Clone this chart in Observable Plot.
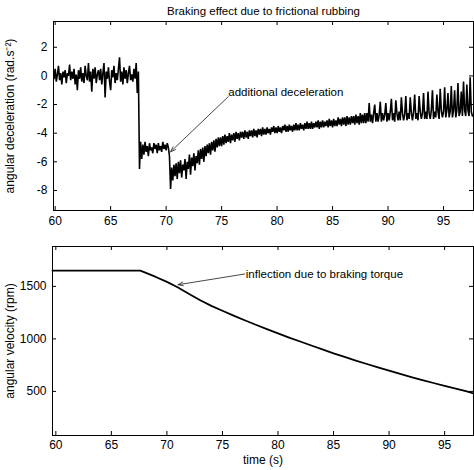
<!DOCTYPE html>
<html>
<head>
<meta charset="utf-8">
<script src="https://cdn.jsdelivr.net/npm/d3@7"></script>
<script src="https://cdn.jsdelivr.net/npm/@observablehq/plot@0.6"></script>
<style>
  body { margin: 0; background: #fff; }
  #chart { width: 474px; height: 470px; }
  #chart svg { display: block; }
</style>
</head>
<body>
<div id="chart"></div>
<script>
// ---------- DATA ----------
const title = "Braking effect due to frictional rubbing";

// angular deceleration (rad.s^-2), sampled every 0.1 s starting at 59.9 s
const accelStart = 59.9;
const accelStep = 0.1;
const accel = [
  -0.2,
  0.5, -0.4, 0.1, 0.7, -0.3, 0.2, -0.6, 0.3, -0.1, 0.4,
  -0.5, 0.2, 0.0, 0.8, -0.3, 0.3, -0.2, 0.5, -0.6, 0.1,
  -1.0, 0.4, -0.2, 0.6, -0.4, 0.2, -0.5, 0.7, 0.0, -0.3,
  0.9, -0.4, 0.3, -1.1, 0.5, -0.2, 0.6, -0.5, 0.1, 0.4,
  -0.3, 0.5, -0.6, 0.2, 0.9, -1.5, 0.3, -0.2, 0.6, -0.4,
  -1.0, 0.4, -0.1, 0.7, -0.5, 0.2, -0.3, 0.5, 1.3, -0.4,
  0.3, -0.6, 0.6, -0.2, 0.4, -0.5, 0.2, 0.7, -0.3, 0.1,
  -0.4, 0.5, -0.2, 0.9, -1.2, 0.3, -6.5, -4.6, -5.8, -4.8,
  -5.5, -4.6, -5.3, -4.9, -5.6, -4.7, -5.2, -5.0, -5.4, -4.7,
  -5.1, -4.8, -5.4, -4.7, -5.2, -4.9, -5.3, -4.6, -5.1, -4.8,
  -5.2, -4.7, -5.0, -5.6, -7.9, -6.4, -7.3, -6.2, -7.0, -6.1,
  -7.2, -6.0, -6.8, -5.9, -7.1, -6.2, -6.6, -5.8, -7.2, -6.0,
  -6.5, -5.5, -6.9, -5.7, -6.3, -5.4, -6.6, -5.6, -6.1, -5.2,
  -6.2, -5.1, -5.8, -5.0, -6.0, -4.9, -5.6, -4.8, -5.4, -4.7,
  -5.5, -4.6, -5.2, -4.5, -5.3, -4.4, -5.0, -4.3, -4.9, -4.3,
  -4.9, -4.2, -4.8, -4.1, -4.7, -4.2, -4.6, -4.0, -4.7, -4.1,
  -4.5, -4.0, -4.6, -3.9, -4.4, -4.0, -4.5, -3.9, -4.3, -3.9,
  -4.4, -3.8, -4.3, -3.9, -4.4, -3.8, -4.2, -3.8, -4.3, -3.7,
  -4.2, -3.8, -4.3, -3.7, -4.1, -3.7, -4.2, -3.6, -4.1, -3.7,
  -4.1, -3.6, -4.0, -3.7, -4.1, -3.6, -3.9, -3.5, -4.0, -3.6,
  -4.0, -3.5, -3.9, -3.6, -4.0, -3.5, -3.8, -3.4, -3.9, -3.5,
  -3.9, -3.4, -3.8, -3.5, -3.9, -3.4, -3.8, -3.3, -3.8, -3.4,
  -3.8, -3.3, -3.7, -3.4, -3.8, -3.3, -3.7, -3.2, -3.7, -3.3,
  -3.7, -3.2, -3.7, -3.3, -3.6, -3.2, -3.6, -3.1, -3.7, -3.2,
  -3.6, -3.1, -3.6, -3.2, -3.5, -3.1, -3.6, -3.0, -3.5, -3.1,
  -3.6, -3.0, -3.5, -3.1, -3.5, -2.9, -3.4, -3.0, -3.5, -2.9,
  -3.4, -2.9, -3.5, -2.8, -3.4, -2.9, -3.4, -2.8, -3.3, -2.8,
  -3.4, -2.7, -3.3, -2.8, -3.4, -2.6, -3.3, -2.7, -3.3, -2.6,
  -3.3, -2.6, -3.2, -1.9, -3.2, -2.7, -3.3, -2.6, -2.0, -3.2,
  -2.6, -3.2, -2.7, -1.8, -3.2, -2.6, -3.1, -2.7, -1.9, -3.2,
  -2.6, -3.1, -2.5, -1.6, -3.1, -2.6, -3.2, -1.7, -2.6, -3.1,
  -2.5, -3.1, -1.5, -2.6, -3.1, -2.7, -1.4, -3.1, -2.6, -3.0,
  -1.5, -2.6, -3.1, -2.5, -1.3, -3.0, -2.6, -3.1, -1.4, -2.5,
  -3.0, -2.6, -1.2, -3.0, -2.5, -3.0, -1.1, -2.6, -3.0, -2.4,
  -1.0, -3.0, -2.5, -2.9, -1.3, -2.5, -3.0, -0.9, -2.4, -2.9,
  -2.5, -0.8, -2.9, -2.4, -1.2, -2.9, -2.5, -0.7, -2.9, -2.4,
  -1.0, -2.9, -2.4, -0.5, -2.8, -2.5, -1.1, -2.8, -0.4, -2.4,
  -2.8, -0.6, -2.4, -2.8, -0.1, -2.5, -2.8
];

// angular velocity (rpm)
const velTime = [59.7, 67.6, 68, 69, 70, 71, 72, 73, 74, 75, 76, 77, 78, 79, 80, 81, 82, 83, 84, 85, 86, 87, 88, 89, 90, 91, 92, 93, 94, 95, 96, 97, 97.6];
const velRpm  = [1650, 1650, 1633, 1590, 1543, 1490, 1428, 1368, 1315, 1268, 1222, 1178, 1135, 1093, 1052, 1013, 975, 937, 900, 863, 828, 794, 761, 729, 697, 667, 637, 608, 580, 553, 526, 500, 480];

// tick values
const xTicks = [60, 65, 70, 75, 80, 85, 90, 95];
const accelTicks = [-8, -6, -4, -2, 0, 2];
const velTicks = [500, 1000, 1500];

// annotations (data space): text anchor and arrow from/to
const accelNote = {text: "additional deceleration", x: 75.6, y: -1.12, x1: 75.6, y1: -1.45, x2: 70.4, y2: -5.3};
const velNote = {text: "inflection due to braking torque", x: 77.1, y: 1618, x1: 77.0, y1: 1618, x2: 71.0, y2: 1516};

// ---------- BUILD ----------
const accelData = accel.map((v, i) => ({t: accelStart + i * accelStep, a: v}));
const velData = velTime.map((t, i) => ({t, v: velRpm[i]}));

const font = "'Liberation Sans', Arial, sans-serif";
const fmt = d => String(d);

function boxTicks(xs, ys, frameW, frameH, len) {
  return [
    Plot.ruleX(xs, {x: d => d, insetTop: frameH - len, stroke: "#000", strokeWidth: 1}),
    Plot.ruleX(xs, {x: d => d, insetBottom: frameH - len, stroke: "#000", strokeWidth: 1}),
    Plot.ruleY(ys, {y: d => d, insetRight: frameW - len, stroke: "#000", strokeWidth: 1}),
    Plot.ruleY(ys, {y: d => d, insetLeft: frameW - len, stroke: "#000", strokeWidth: 1})
  ];
}

const W = 474;
const L1 = {h: 233, mt: 21, mb: 23, ml: 53, mr: 1};
const L2 = {h: 237, mt: 13, mb: 35, ml: 52, mr: 1};

const p1 = Plot.plot({
  width: W, height: L1.h,
  marginTop: L1.mt, marginBottom: L1.mb, marginLeft: L1.ml, marginRight: L1.mr,
  style: {fontFamily: font, fontSize: "12px", color: "#000", background: "#fff", overflow: "visible"},
  x: {domain: [59.85, 97.7]},
  y: {domain: [-9.4, 3.8]},
  marks: [
    Plot.axisX({ticks: xTicks, tickSize: 0, tickPadding: 6, tickFormat: fmt, label: null, fontSize: 12}),
    Plot.axisY({ticks: accelTicks, tickSize: 0, tickPadding: 6, tickFormat: fmt,
      label: "angular deceleration (rad.s\u207B\u00B2)", labelAnchor: "center", labelArrow: "none", labelOffset: 48, fontSize: 12}),
    ...boxTicks(xTicks, accelTicks, W - L1.ml - L1.mr, L1.h - L1.mt - L1.mb, 4),
    Plot.line(accelData, {x: "t", y: "a", stroke: "#000", strokeWidth: 1.6, strokeLinejoin: "miter"}),
    Plot.arrow([accelNote], {x1: "x1", y1: "y1", x2: "x2", y2: "y2", stroke: "#333", strokeWidth: 0.9, headLength: 9, headAngle: 40}),
    Plot.text([accelNote], {x: "x", y: "y", text: "text", textAnchor: "start", fontSize: 11.5, fill: "#000"}),
    Plot.text([title], {frameAnchor: "top", dy: -15, text: d => d, fontSize: 11.5, fill: "#000"}),
    Plot.frame({stroke: "#000", strokeWidth: 1})
  ]
});

const p2 = Plot.plot({
  width: W, height: L2.h,
  marginTop: L2.mt, marginBottom: L2.mb, marginLeft: L2.ml, marginRight: L2.mr,
  style: {fontFamily: font, fontSize: "12px", color: "#000", background: "#fff", overflow: "visible"},
  x: {domain: [59.7, 97.6]},
  y: {domain: [80, 1880]},
  marks: [
    Plot.axisX({ticks: xTicks, tickSize: 0, tickPadding: 5, tickFormat: fmt,
      label: "time (s)", labelAnchor: "center", labelArrow: "none", labelOffset: 28, fontSize: 12}),
    Plot.axisY({ticks: velTicks, tickSize: 0, tickPadding: 6, tickFormat: fmt,
      label: "angular velocity (rpm)", labelAnchor: "center", labelArrow: "none", labelOffset: 47, fontSize: 12}),
    ...boxTicks(xTicks, velTicks, W - L2.ml - L2.mr, L2.h - L2.mt - L2.mb, 4),
    Plot.line(velData, {x: "t", y: "v", stroke: "#000", strokeWidth: 1.8}),
    Plot.arrow([velNote], {x1: "x1", y1: "y1", x2: "x2", y2: "y2", stroke: "#333", strokeWidth: 0.9, headLength: 9, headAngle: 40}),
    Plot.text([velNote], {x: "x", y: "y", text: "text", textAnchor: "start", fontSize: 11.5, fill: "#000"}),
    Plot.frame({stroke: "#000", strokeWidth: 1})
  ]
});

document.getElementById("chart").append(p1, p2);
</script>
</body>
</html>
